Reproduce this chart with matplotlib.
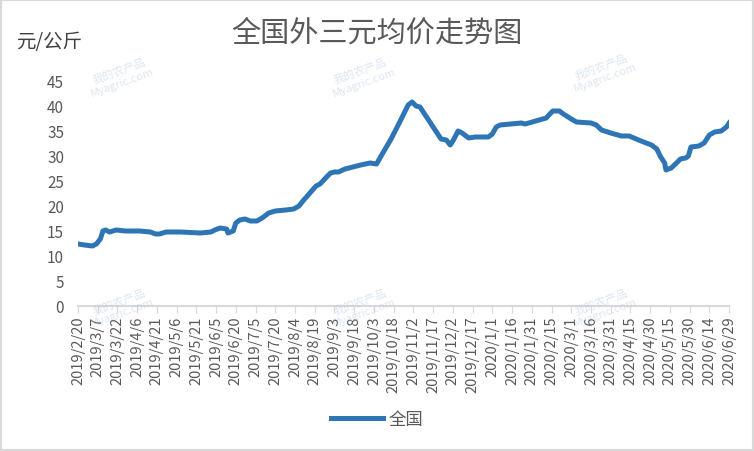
import pandas as pd
import matplotlib.pyplot as plt
from matplotlib.patches import Rectangle

plt.rcParams['font.family'] = ['Noto Sans CJK SC', 'DejaVu Sans']

# days after 2019/2/20
days = [0, 5, 11, 14, 17, 19, 21, 24, 29, 36, 47, 55, 59, 62, 67, 78, 93, 101, 104, 108,
        113, 114, 118, 120, 123, 127, 131, 136, 140, 145, 150, 158, 164, 168, 171, 177,
        181, 184, 189, 192, 195, 198, 203, 209, 215, 222, 227, 230, 238, 245, 251, 254,
        257, 260, 267, 273, 276, 280, 283, 285, 289, 292, 297, 302, 312, 315, 318, 321,
        329, 337, 340, 348, 356, 358, 361, 366, 369, 375, 379, 390, 394, 398, 405, 413,
        419, 428, 436, 440, 443, 446, 447, 451, 455, 458, 462, 464, 466, 472, 476, 480,
        484, 489, 493, 495]
price = [12.4, 12.2, 12.0, 12.4, 13.4, 15.0, 15.2, 14.8, 15.2, 15.0, 15.0, 14.8, 14.4, 14.4,
         14.8, 14.8, 14.6, 14.8, 15.2, 15.6, 15.4, 14.6, 15.0, 16.6, 17.2, 17.4, 17.0, 17.0,
         17.6, 18.6, 19.0, 19.2, 19.4, 20.0, 21.0, 22.8, 24.0, 24.4, 25.8, 26.6, 26.8, 26.8,
         27.4, 27.8, 28.2, 28.6, 28.4, 29.8, 33.4, 37.0, 40.2, 40.8, 40.0, 39.8, 37.0, 34.6,
         33.4, 33.2, 32.2, 33.0, 35.0, 34.6, 33.6, 33.8, 33.8, 34.4, 35.8, 36.2, 36.4, 36.6,
         36.4, 37.0, 37.6, 38.2, 39.0, 39.0, 38.4, 37.4, 36.8, 36.6, 36.2, 35.2, 34.6, 34.0,
         34.0, 33.0, 32.2, 31.4, 29.8, 28.6, 27.2, 27.6, 28.6, 29.4, 29.6, 30.0, 31.8, 32.0,
         32.6, 34.2, 34.8, 35.0, 35.8, 36.6]

start = pd.Timestamp('2019-02-20')
dates = start + pd.to_timedelta(days, unit='D')
ticks = pd.date_range('2019-02-20', '2020-06-29', freq='15D')
tick_labels = [f'{d.year}/{d.month}/{d.day}' for d in ticks]

fig = plt.figure(figsize=(7.54, 4.52), dpi=100)
ax = fig.add_axes([0.1034, 0.3208, 0.8636, 0.4978])

ax.plot(dates, price, color='#2E75B6', lw=3.6, label='全国', solid_joinstyle='round')

ax.set_xlim(ticks[0], ticks[-1])
ax.set_ylim(0, 45)
ax.set_yticks(range(0, 46, 5))
ax.set_xticks(ticks)
ax.set_xticklabels(tick_labels, rotation=90)
ax.tick_params(axis='y', length=0, labelsize=11, labelcolor='#595959', pad=10)
ax.tick_params(axis='x', length=5, color='#D9D9D9', labelsize=10.5,
               labelcolor='#595959', pad=2)
for s in ['top', 'right', 'left']:
    ax.spines[s].set_visible(False)
ax.spines['bottom'].set_color('#D9D9D9')
ax.spines['bottom'].set_linewidth(1.5)

fig.text(0.5, 0.925, '全国外三元均价走势图', ha='center', va='center',
         fontsize=21, color='#595959')
fig.text(0.022, 0.905, '元/公斤', ha='left', va='center', fontsize=14, color='#404040')

# faint site watermarks
for wx, wy in [(0.16, 0.83), (0.48, 0.83), (0.8, 0.84), (0.16, 0.32), (0.48, 0.32), (0.8, 0.32)]:
    fig.text(wx, wy, '我的农产品\nMyagric.com', ha='center', va='center', fontsize=8,
             color='#9DB8D9', alpha=0.35, rotation=20, zorder=0)

fig.legend(loc='center', bbox_to_anchor=(0.5, 0.07), frameon=False, fontsize=12.5,
           handlelength=3, labelcolor='#595959', handletextpad=0.3)

fig.patches.append(Rectangle((0, 0), 1, 1, transform=fig.transFigure, fill=False,
                             edgecolor='#D9D9D9', linewidth=3))

plt.savefig('out.png')
